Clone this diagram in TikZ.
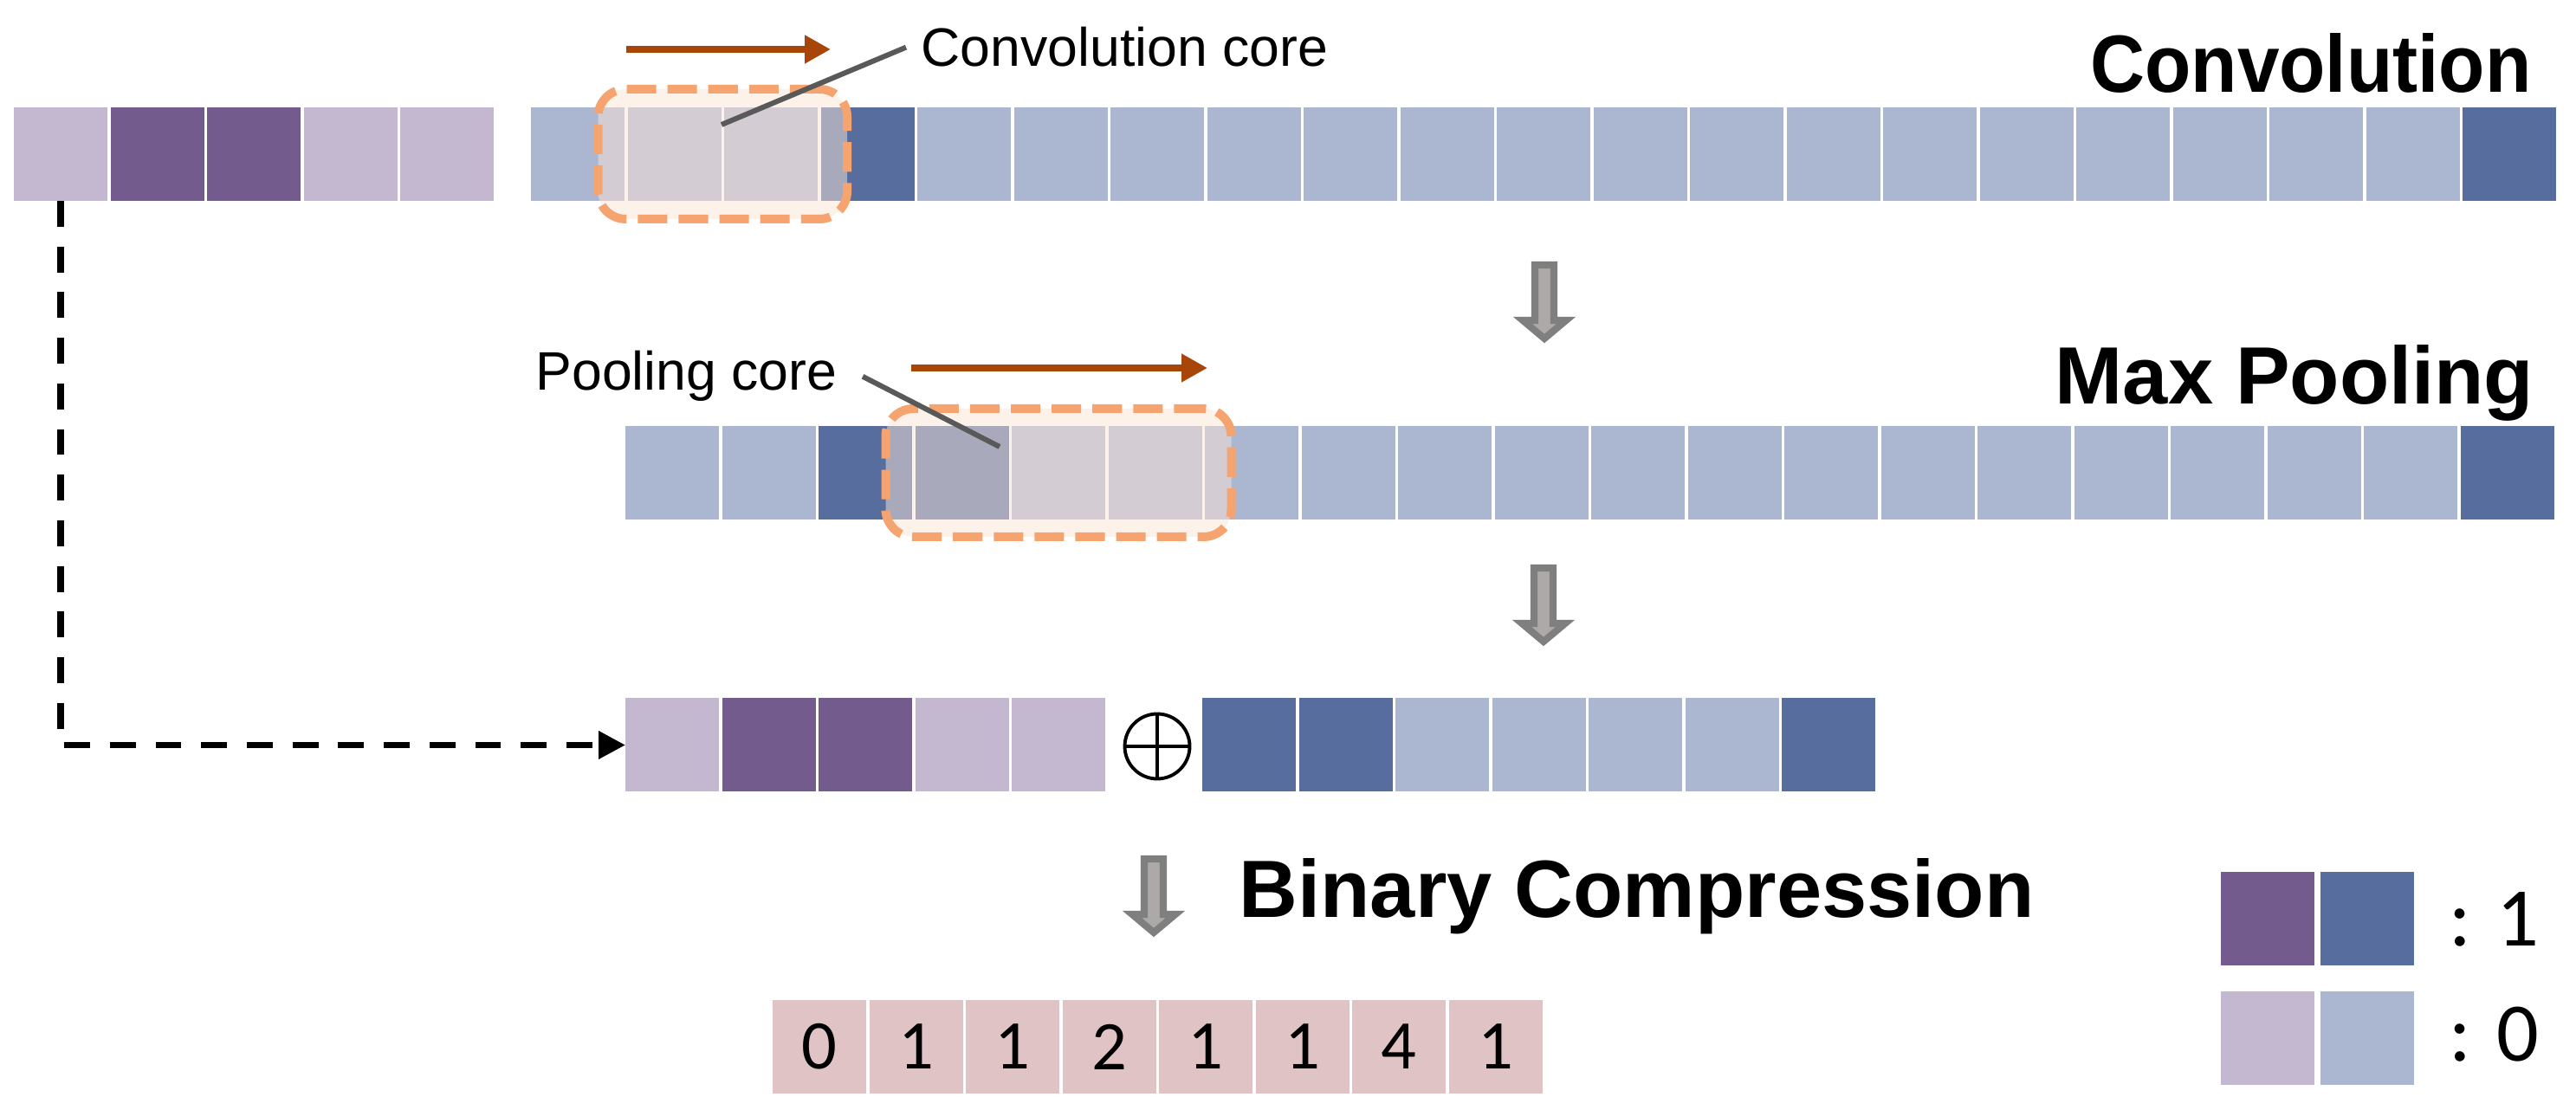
\documentclass[tikz,border=0pt]{standalone}
\usepackage{fontspec}
\setmainfont{Liberation Sans}
\newfontfamily\calib{Carlito}
\usetikzlibrary{arrows.meta,fit}

\definecolor{pl}{HTML}{C4B7D0}
\definecolor{pd}{HTML}{745B8E}
\definecolor{bl}{HTML}{ABB6D0}
\definecolor{bd}{HTML}{566D9E}
\definecolor{numcell}{HTML}{DFC3C5}
\definecolor{ovfill}{HTML}{FBE5D6}
\definecolor{ovedge}{HTML}{F5A470}
\definecolor{slidecol}{HTML}{A84508}
\definecolor{ptrcol}{HTML}{595959}
\definecolor{arrowedge}{HTML}{7F7F7F}
\definecolor{arrowfill}{HTML}{ADA9A9}

\tikzset{
  cell/.style={minimum size=1.08cm, inner sep=0pt, outer sep=0pt},
  core/.style={draw=ovedge, line width=2.85pt, dash pattern=on 9.7pt off 3.7pt,
    fill=ovfill, fill opacity=0.5, rounded corners=0.32cm,
    inner xsep=0.34cm, inner ysep=0.21cm},
  slide/.style={slidecol, line width=2.3pt, -{Triangle[length=8.5pt,width=8.8pt]}},
  pointer/.style={ptrcol, line width=1.7pt},
  skipline/.style={black, line width=2pt, dash pattern=on 8.5pt off 6.5pt,
    -{Triangle[length=8.8pt,width=8.8pt]}},
  lbl/.style={font=\fontsize{17.8}{20}\selectfont, inner ysep=0pt},
  heading/.style={font=\fontsize{26.7}{30}\selectfont\bfseries, inner sep=0pt},
  digit/.style={font=\calib\fontsize{22.9}{26}\selectfont},
  keytext/.style={font=\calib\fontsize{27.4}{30}\selectfont, inner sep=0pt, anchor=west},
  grayarrow/.pic={
    \draw[line width=2.3pt, draw=arrowedge, fill=arrowfill, line join=miter]
      (-0.11,0) -- (0.11,0) -- (0.11,-0.64) -- (0.25,-0.64) -- (0,-0.85)
      -- (-0.25,-0.64) -- (-0.11,-0.64) -- cycle;
  }
}

\begin{document}
\begin{tikzpicture}
  \useasboundingbox (0,0) rectangle (29.74,12.82);
  % 第一行: 输入与卷积
  \foreach \c [count=\i from 0] in {pl,pd,pd,pl,pl}
    \node[cell, fill=\c] (a\i) at (0.70+1.115*\i,11.04) {};
  \foreach \c [count=\i from 0] in {bl,bl,bl,bd,bl,bl,bl,bl,bl,bl,bl,bl,bl,bl,bl,bl,bl,bl,bl,bl,bd}
    \node[cell, fill=\c] (b\i) at (6.67+1.115*\i,11.04) {};
  % 第二行: 最大池化
  \foreach \c [count=\i from 0] in {bl,bl,bd,bd,bl,bl,bl,bl,bl,bl,bl,bl,bl,bl,bl,bl,bl,bl,bl,bd}
    \node[cell, fill=\c] (c\i) at (7.76+1.115*\i,7.36) {};
  % 第三行: 拼接
  \foreach \c [count=\i from 0] in {pl,pd,pd,pl,pl}
    \node[cell, fill=\c] (d\i) at (7.76+1.115*\i,4.215) {};
  \foreach \c [count=\i from 0] in {bd,bd,bl,bl,bl,bl,bd}
    \node[cell, fill=\c] (e\i) at (14.42+1.115*\i,4.215) {};
  \node[draw, circle, line width=1.1pt, minimum size=0.75cm, inner sep=0pt] (oplus) at (13.36,4.20) {};
  \draw[line width=1.1pt] (oplus.north) -- (oplus.south) (oplus.west) -- (oplus.east);
  % 第四行: 压缩结果
  \foreach \v [count=\i from 0] in {0,1,1,2,1,1,4,1}
    \node[cell, digit, fill=numcell] (n\i) at (9.46+1.115*\i,0.73) {\v};
  % 卷积核与池化核
  \node[core, fit=(b1)(b2)] (convcore) {};
  \node[core, inner ysep=0.2cm, fit=(c3)(c5)] (poolcore) {};
  \draw[slide] (7.23,12.25) -- (9.59,12.25);
  \draw[slide] (10.52,8.57) -- (13.94,8.57);
  \node[lbl, anchor=base west, inner xsep=0.17cm] (convlbl) at (10.46,12.05) {Convolution core};
  \node[lbl, anchor=base east, inner xsep=0.29cm] (poollbl) at (9.96,8.31) {Pooling core};
  \coordinate (convpt) at (8.33,11.38);
  \coordinate (poolpt) at (11.54,7.66);
  \draw[pointer] (convpt) -- (convlbl.west);
  \draw[pointer] (poollbl.east) -- (poolpt);
  % 标题
  \node[heading, anchor=base east] (convtitle) at (29.23,11.75) {\scalebox{0.93}[1]{Convolution}};
  \node[heading, anchor=base east] (pooltitle) at (29.26,8.15) {Max Pooling};
  \node[heading, anchor=base west] (bintitle) at (14.30,2.22) {Binary Compression};
  % 箭头
  \pic at (17.83,9.76) {grayarrow};
  \pic at (17.82,6.26) {grayarrow};
  \pic at (13.32,2.90) {grayarrow};
  \draw[skipline] (a0.south) |- (d0.west);
  % 图例
  \node[cell, fill=pd] (k0) at (26.18,2.21) {};
  \node[cell, fill=bd] (k1) at (27.33,2.21) {};
  \node[cell, fill=pl] (k2) at (26.18,0.83) {};
  \node[cell, fill=bl] (k3) at (27.33,0.83) {};
  \node[keytext] (onetxt) at (28.27,2.20) {: 1};
  \node[keytext] (zerotxt) at (28.27,0.87) {: 0};
\end{tikzpicture}
\end{document}
